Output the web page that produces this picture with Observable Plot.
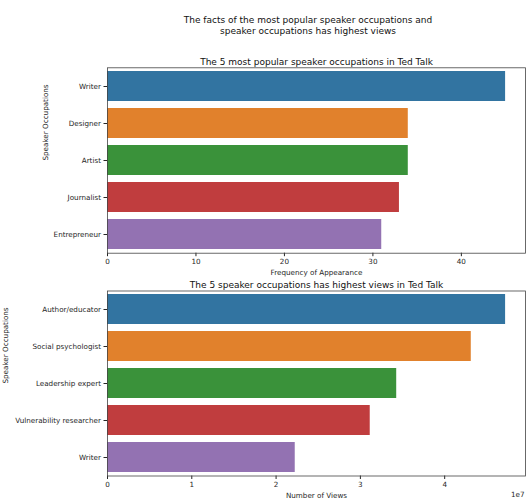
<!DOCTYPE html>
<html>
<head>
<meta charset="utf-8">
<script src="https://cdn.jsdelivr.net/npm/d3@7"></script>
<script src="https://cdn.jsdelivr.net/npm/@observablehq/plot@0.6"></script>
<style>
  html, body { margin: 0; padding: 0; background: #fff; }
  #wrap { position: relative; width: 531px; height: 502px; overflow: hidden; }
  #wrap > svg { position: absolute; left: 0; overflow: visible; }
</style>
</head>
<body>
<div id="wrap"></div>
<script>
// ---- data ----
const suptitle = "The facts of the most popular speaker occupations and\nspeaker occupations has highest views";
const title1 = "The 5 most popular speaker occupations in Ted Talk";
const title2 = "The 5 speaker occupations has highest views in Ted Talk";
const occupations1 = ["Writer", "Designer", "Artist", "Journalist", "Entrepreneur"];
const frequency = [45, 34, 34, 33, 31];
const occupations2 = ["Author/educator", "Social psychologist", "Leadership expert", "Vulnerability researcher", "Writer"];
const views = [47227110, 43155405, 34309432, 31168150, 22270883];
const ticks1 = [0, 10, 20, 30, 40];
const ticks2 = [0, 1e7, 2e7, 3e7, 4e7];
const palette = ["#3274a1", "#e1812c", "#3a923a", "#c03d3e", "#9372b2"];
const xLabel1 = "Frequency of Appearance";
const xLabel2 = "Number of Views";
const yLabel = "Speaker Occupations";

const data1 = occupations1.map((c, i) => ({cat: c, value: frequency[i]}));
const data2 = occupations2.map((c, i) => ({cat: c, value: views[i]}));

const font = "DejaVu Sans";
const wrap = document.getElementById("wrap");

function panel({data, cats, xmax, ticks, tickFormat, title, xLabel, yDx, height, marginTop, marginBottom, extra}) {
  return Plot.plot({
    width: 531,
    height,
    marginLeft: 107,
    marginRight: 6,
    marginTop,
    marginBottom,
    style: {fontFamily: font, fontSize: "7.2px", background: "transparent", overflow: "visible", color: "#262626"},
    x: {domain: [0, xmax]},
    y: {domain: cats, paddingInner: 0.2, paddingOuter: 0.1},
    color: {domain: cats, range: palette},
    marks: [
      Plot.barX(data, {x: "value", y: "cat", fill: "cat"}),
      Plot.axisX({ticks, tickFormat, tickSize: 3.5, tickPadding: 2.5, label: null, fontSize: 7.2}),
      Plot.axisY({tickSize: 3.5, tickPadding: 3, label: null, fontSize: 7.2}),
      Plot.frame({stroke: "#444", strokeWidth: 0.8}),
      Plot.text([title], {frameAnchor: "top", lineAnchor: "middle", dy: -6, text: d => d, fontSize: 9, fill: "#111"}),
      Plot.text([xLabel], {frameAnchor: "bottom", lineAnchor: "middle", dy: 19.5, text: d => d, fontSize: 7.2, fill: "#262626"}),
      Plot.text([yLabel], {frameAnchor: "left", lineAnchor: "middle", dx: yDx, rotate: -90, text: d => d, fontSize: 7.2, fill: "#262626"}),
      ...(extra || [])
    ]
  });
}

const p1 = panel({
  data: data1, cats: occupations1, xmax: d3.max(frequency) * 1.05,
  ticks: ticks1, tickFormat: d => d3.format("d")(d),
  title: title1, xLabel: xLabel1, yDx: -62,
  height: 280, marginTop: 67.3, marginBottom: 27.3,
  extra: [
    Plot.text([suptitle], {frameAnchor: "top", lineAnchor: "middle", dx: -8.5, dy: -43.1, text: d => d, fontSize: 9, lineHeight: 1.24, fill: "#111"})
  ]
});
p1.style.top = "0px";

const p2 = panel({
  data: data2, cats: occupations2, xmax: d3.max(views) * 1.05,
  ticks: ticks2, tickFormat: d => d3.format("d")(d / 1e7),
  title: title2, xLabel: xLabel2, yDx: -102,
  height: 226, marginTop: 14.5, marginBottom: 26.5,
  extra: [
    Plot.text(["1e7"], {frameAnchor: "bottom-right", lineAnchor: "middle", dy: 18.5, dx: -1, textAnchor: "end", text: d => d, fontSize: 7.2, fill: "#262626"})
  ]
});
p2.style.top = "276px";

wrap.appendChild(p1);
wrap.appendChild(p2);
</script>
</body>
</html>
